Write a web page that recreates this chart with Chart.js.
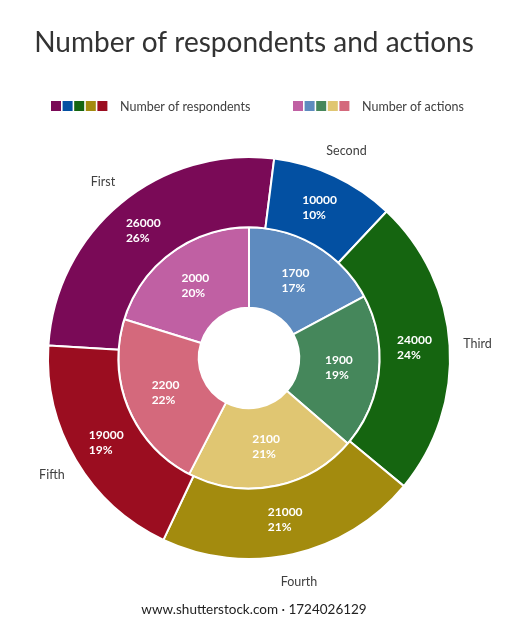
<!DOCTYPE html>
<html><head><meta charset="utf-8">
<script src="https://cdn.jsdelivr.net/npm/chart.js@4/dist/chart.umd.min.js"></script>
<style>html,body{margin:0;padding:0;background:#fff;}#wrap{width:508px;height:620px;}</style>
</head><body><div id="wrap"><canvas id="c" width="508" height="620"></canvas></div>
<script>
const chartTitle = 'Number of respondents and actions';
const footerText = 'www.shutterstock.com \u00b7 1724026129';
const categories = ['First', 'Second', 'Third', 'Fourth', 'Fifth'];
const seriesNames = ['Number of respondents', 'Number of actions'];
const respondents = [26000, 10000, 24000, 21000, 19000];
const actions = [2000, 1700, 1900, 2100, 2200];
const respondentColors = ['#7A0A57', '#0350A2', '#156510', '#A38B0E', '#9B0D20'];
const actionColors = ['#C060A3', '#5E8BBF', '#45875B', '#E0C672', '#D4697C'];

const sum = a => a.reduce((s, v) => s + v, 0);
const FONT = 'Lato, "Open Sans", sans-serif';

const labelPlugin = {
  id: 'labels',
  afterDraw(chart) {
    const ctx = chart.ctx;
    ctx.save();
    // title
    ctx.fillStyle = '#333';
    ctx.font = '28px ' + FONT;
    ctx.textAlign = 'center';
    ctx.textBaseline = 'alphabetic';
    ctx.fillText(chartTitle, 254, 52);
    // legend
    const legendDefs = [[51, 120, respondentColors, seriesNames[0]], [293, 362, actionColors, seriesNames[1]]];
    ctx.font = '12.5px ' + FONT;
    ctx.textAlign = 'left';
    legendDefs.forEach(([bx, tx, cols, name]) => {
      cols.forEach((c, i) => { ctx.fillStyle = c; ctx.fillRect(bx + i * 11.6, 101, 10, 10); });
      ctx.fillStyle = '#404040';
      ctx.fillText(name, tx, 111);
    });
    // value labels
    chart.data.datasets.forEach((ds, di) => {
      const meta = chart.getDatasetMeta(di);
      const total = sum(ds.data);
      meta.data.forEach((arc, i) => {
        const p = arc.getProps(['startAngle', 'endAngle', 'innerRadius', 'outerRadius', 'x', 'y'], true);
        const mid = (p.startAngle + p.endAngle) / 2;
        const r = (p.innerRadius + p.outerRadius) / 2;
        const cx = p.x + Math.cos(mid) * r;
        const cy = p.y + Math.sin(mid) * r;
        const l1 = String(ds.data[i]);
        const l2 = Math.round(ds.data[i] / total * 100) + '%';
        ctx.font = 'bold 12px ' + FONT;
        const w = Math.max(ctx.measureText(l1).width, ctx.measureText(l2).width);
        ctx.fillStyle = '#fff';
        ctx.textAlign = 'left';
        ctx.textBaseline = 'middle';
        ctx.fillText(l1, cx - w / 2, cy - 7.5);
        ctx.fillText(l2, cx - w / 2, cy + 7.5);
        if (di === 0) {
          const rr = p.outerRadius + 28;
          ctx.font = '12.5px ' + FONT;
          ctx.fillStyle = '#404040';
          ctx.textAlign = 'center';
          ctx.fillText(categories[i], p.x + Math.cos(mid) * rr, p.y + Math.sin(mid) * rr);
        }
      });
    });
    // footer
    ctx.font = '13.5px ' + FONT;
    ctx.fillStyle = '#222';
    ctx.textAlign = 'center';
    ctx.textBaseline = 'alphabetic';
    ctx.fillText(footerText, 254, 614);
    ctx.restore();
  }
};

new Chart(document.getElementById('c'), {
  type: 'doughnut',
  data: {
    labels: categories,
    datasets: [
      { label: seriesNames[0], data: respondents, backgroundColor: respondentColors, borderColor: '#fff', borderWidth: 2, weight: 70,
        rotation: 7.2 - respondents[0] / sum(respondents) * 360 },
      { label: seriesNames[1], data: actions, backgroundColor: actionColors, borderColor: '#fff', borderWidth: 2, weight: 80,
        rotation: -actions[0] / sum(actions) * 360 }
    ]
  },
  options: {
    responsive: false,
    animation: false,
    cutout: '25%',
    layout: { padding: { top: 156, bottom: 60, left: 47, right: 57 } },
    plugins: { legend: { display: false }, tooltip: { enabled: false }, title: { display: false } }
  },
  plugins: [labelPlugin]
});
</script></body></html>
